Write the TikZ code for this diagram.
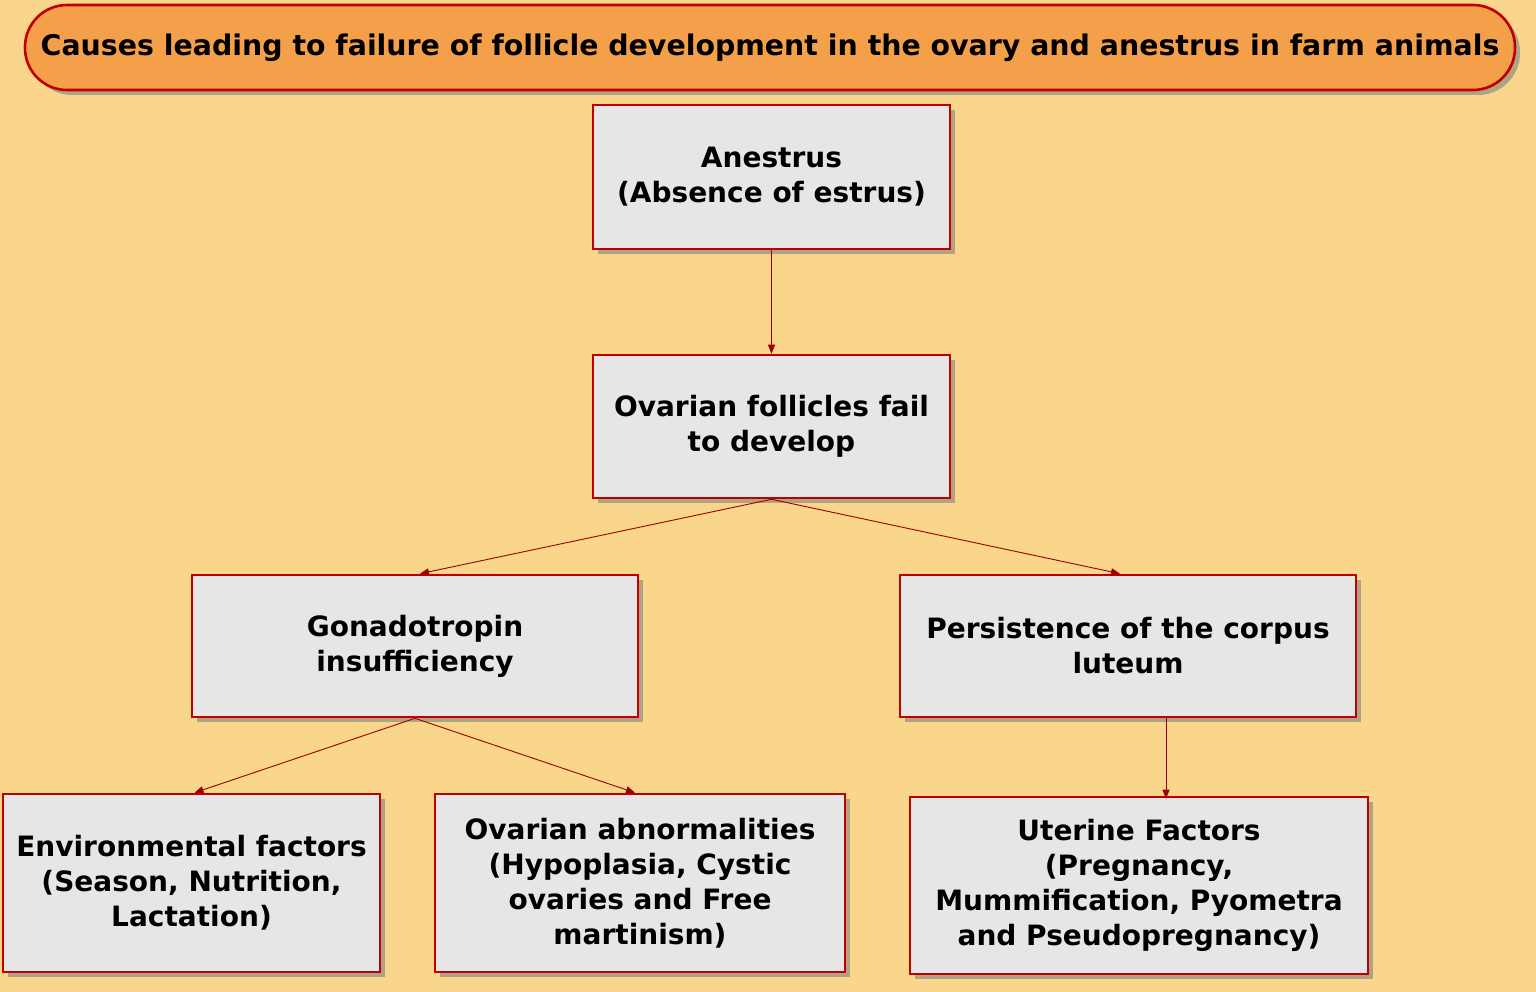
\documentclass[tikz,border=0pt]{standalone}
\usepackage{fontspec}
\setmainfont{DejaVu Sans}
\usetikzlibrary{arrows.meta,shadows}
\definecolor{bg}{HTML}{FAD58C}
\definecolor{bred}{HTML}{C00000}
\definecolor{boxf}{HTML}{E6E6E6}
\definecolor{orng}{HTML}{F4A04A}
\tikzset{
 box/.style={draw=bred,line width=2.6pt,fill=boxf,align=center,inner sep=0pt,
   font=\fontsize{28}{35}\selectfont\bfseries,
   drop shadow={shadow xshift=5pt,shadow yshift=-5pt,fill=black!50,opacity=0.6}},
 arr/.style={draw=bred!80!black,line width=0.9pt,-{Triangle[length=9pt,width=7pt]}}
}
\begin{document}
\begin{tikzpicture}[x=1pt,y=-1pt]
\fill[bg] (0,0) rectangle (1536,992);
\useasboundingbox (0,0) rectangle (1536,992);
\node[box,fill=orng,rounded corners=42pt,minimum width=1490pt,minimum height=85pt,
  font=\fontsize{28.4}{30}\selectfont\bfseries] (t) at (770,47.5)
  {Causes leading to failure of follicle development in the ovary and anestrus in farm animals};
\node[box,minimum width=357pt,minimum height=144pt] (a) at (771.5,177) {Anestrus\\(Absence of estrus)};
\node[box,minimum width=357pt,minimum height=143pt] (o) at (771.5,426.5) {Ovarian follicles fail\\to develop};
\node[box,minimum width=446pt,minimum height=142pt] (g) at (415,646) {Gonadotropin\\insufficiency};
\node[box,minimum width=456pt,minimum height=142pt] (p) at (1128,646) {Persistence of the corpus\\luteum};
\node[box,minimum width=377pt,minimum height=178pt] (e) at (191.5,883) {Environmental factors\\(Season, Nutrition,\\Lactation)};
\node[box,minimum width=410pt,minimum height=178pt] (v) at (640,883) {Ovarian abnormalities\\(Hypoplasia, Cystic\\ovaries and Free\\martinism)};
\node[box,minimum width=458pt,minimum height=177pt] (u) at (1139,885.5) {Uterine Factors\\(Pregnancy,\\Mummification, Pyometra\\and Pseudopregnancy)};
\draw[arr] (a.south) -- (o.north);
\draw[arr] (o.south) -- ([xshift=5pt]g.north);
\draw[arr] (o.south) -- ([xshift=-8pt]p.north);
\draw[arr] (g.south) -- ([xshift=3pt]e.north);
\draw[arr] (g.south) -- ([xshift=-5pt]v.north);
\draw[arr] ([xshift=38pt]p.south) -- ([xshift=38pt,yshift=-3pt]p.south |- u.north);
\end{tikzpicture}
\end{document}
